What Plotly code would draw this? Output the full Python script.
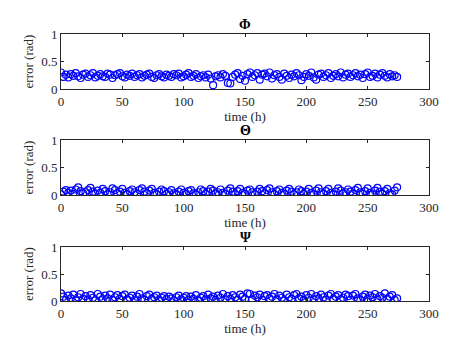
import plotly.graph_objects as go

time_h = [0, 2, 4, 6, 8, 10, 12, 14, 16, 18, 20, 22,
          24, 26, 28, 30, 32, 34, 36, 38, 40, 42, 44, 46,
          48, 50, 52, 54, 56, 58, 60, 62, 64, 66, 68, 70,
          72, 74, 76, 78, 80, 82, 84, 86, 88, 90, 92, 94,
          96, 98, 100, 102, 104, 106, 108, 110, 112, 114, 116, 118,
          120, 122, 124, 126, 128, 130, 132, 134, 136, 138, 140, 142,
          144, 146, 148, 150, 152, 154, 156, 158, 160, 162, 164, 166,
          168, 170, 172, 174, 176, 178, 180, 182, 184, 186, 188, 190,
          192, 194, 196, 198, 200, 202, 204, 206, 208, 210, 212, 214,
          216, 218, 220, 222, 224, 226, 228, 230, 232, 234, 236, 238,
          240, 242, 244, 246, 248, 250, 252, 254, 256, 258, 260, 262,
          264, 266, 268, 270, 272, 274]

phi_err = [0.30, 0.22, 0.26, 0.21, 0.27, 0.24, 0.29, 0.23, 0.20, 0.26, 0.28, 0.22,
           0.25, 0.29, 0.21, 0.24, 0.27, 0.23, 0.22, 0.28, 0.26, 0.20, 0.25, 0.27,
           0.29, 0.23, 0.21, 0.26, 0.24, 0.28, 0.22, 0.25, 0.27, 0.21, 0.24, 0.26,
           0.28, 0.22, 0.20, 0.25, 0.27, 0.23, 0.21, 0.26, 0.24, 0.22, 0.27, 0.25,
           0.28, 0.21, 0.23, 0.26, 0.29, 0.22, 0.24, 0.27, 0.20, 0.23, 0.25, 0.21,
           0.26, 0.19, 0.07, 0.23, 0.25, 0.21, 0.27, 0.24, 0.11, 0.10, 0.22, 0.26,
           0.29, 0.18, 0.24, 0.15, 0.27, 0.30, 0.22, 0.25, 0.29, 0.17, 0.26, 0.28,
           0.23, 0.30, 0.19, 0.25, 0.27, 0.22, 0.17, 0.28, 0.24, 0.20, 0.26, 0.23,
           0.29, 0.25, 0.16, 0.22, 0.27, 0.24, 0.30, 0.21, 0.17, 0.26, 0.28, 0.22,
           0.25, 0.29, 0.20, 0.24, 0.27, 0.23, 0.30, 0.21, 0.26, 0.28, 0.22, 0.25,
           0.29, 0.23, 0.26, 0.20, 0.27, 0.30, 0.22, 0.24, 0.28, 0.21, 0.26, 0.29,
           0.24, 0.21, 0.27, 0.23, 0.25, 0.22]

theta_err = [0.01, 0.06, 0.09, 0.04, 0.08, 0.02, 0.10, 0.14, 0.07, 0.03, 0.05, 0.09,
             0.13, 0.06, 0.02, 0.08, 0.04, 0.11, 0.07, 0.01, 0.05, 0.12, 0.09, 0.03,
             0.06, 0.11, 0.04, 0.01, 0.07, 0.10, 0.05, 0.02, 0.09, 0.12, 0.06, 0.03,
             0.08, 0.11, 0.04, 0.01, 0.06, 0.10, 0.07, 0.02, 0.05, 0.09, 0.03, 0.01,
             0.06, 0.10, 0.04, 0.02, 0.07, 0.09, 0.03, 0.01, 0.05, 0.10, 0.07, 0.02,
             0.06, 0.11, 0.08, 0.03, 0.05, 0.10, 0.04, 0.02, 0.08, 0.12, 0.06, 0.01,
             0.07, 0.11, 0.04, 0.02, 0.08, 0.10, 0.05, 0.01, 0.06, 0.11, 0.07, 0.03,
             0.09, 0.12, 0.05, 0.01, 0.07, 0.10, 0.04, 0.02, 0.08, 0.11, 0.06, 0.01,
             0.05, 0.10, 0.07, 0.02, 0.06, 0.11, 0.04, 0.01, 0.08, 0.12, 0.05, 0.02,
             0.07, 0.11, 0.04, 0.01, 0.06, 0.12, 0.08, 0.03, 0.05, 0.10, 0.06, 0.02,
             0.09, 0.13, 0.05, 0.02, 0.07, 0.12, 0.04, 0.01, 0.08, 0.13, 0.06, 0.02,
             0.07, 0.11, 0.03, 0.01, 0.08, 0.14]

psi_err = [0.14, 0.08, 0.02, 0.10, 0.05, 0.12, 0.01, 0.07, 0.13, 0.04, 0.09, 0.03,
           0.11, 0.06, 0.01, 0.13, 0.08, 0.03, 0.10, 0.05, 0.12, 0.02, 0.07, 0.11,
           0.04, 0.09, 0.12, 0.03, 0.06, 0.10, 0.01, 0.08, 0.13, 0.05, 0.02, 0.09,
           0.12, 0.04, 0.07, 0.10, 0.02, 0.06, 0.09, 0.03, 0.08, 0.05, 0.01, 0.07,
           0.10, 0.03, 0.06, 0.09, 0.02, 0.08, 0.04, 0.11, 0.01, 0.06, 0.09, 0.03,
           0.12, 0.05, 0.08, 0.02, 0.10, 0.06, 0.13, 0.03, 0.09, 0.04, 0.11, 0.07,
           0.02, 0.12, 0.08, 0.04, 0.14, 0.13, 0.03, 0.10, 0.07, 0.12, 0.02, 0.09,
           0.11, 0.05, 0.08, 0.13, 0.03, 0.10, 0.06, 0.01, 0.12, 0.07, 0.04, 0.11,
           0.13, 0.05, 0.08, 0.02, 0.11, 0.06, 0.13, 0.03, 0.09, 0.05, 0.12, 0.07,
           0.02, 0.10, 0.13, 0.04, 0.08, 0.11, 0.03, 0.06, 0.12, 0.09, 0.02, 0.10,
           0.13, 0.05, 0.01, 0.08, 0.12, 0.04, 0.10, 0.07, 0.13, 0.03, 0.09, 0.06,
           0.14, 0.04, 0.08, 0.11, 0.02, 0.05]

panel_titles = ["Φ", "Θ", "Ψ"]
series = [phi_err, theta_err, psi_err]
x_ticks = [0, 50, 100, 150, 200, 250, 300]
y_ticks = [0, 0.5, 1]
y_tick_text = ["0", "0.5", "1"]

FONT = "Liberation Serif"
AXCOL = "#262626"
domains = [[0.794, 1.0], [0.397, 0.603], [0.0, 0.202]]

fig = go.Figure()
layout = dict(
    width=474, height=355,
    margin=dict(l=61, r=45, t=34, b=54),
    paper_bgcolor="white", plot_bgcolor="white",
    showlegend=False,
    font=dict(family=FONT, size=12, color=AXCOL),
    annotations=[],
)

for i, (vals, title) in enumerate(zip(series, panel_titles)):
    n = i + 1
    xa = "x" if n == 1 else f"x{n}"
    ya = "y" if n == 1 else f"y{n}"
    fig.add_trace(go.Scatter(
        x=time_h, y=vals, mode="markers", xaxis=xa, yaxis=ya,
        marker=dict(symbol="circle-open", size=7, color="#0000FF",
                    line=dict(width=1.2, color="#0000FF")),
    ))
    xkey = "xaxis" if n == 1 else f"xaxis{n}"
    ykey = "yaxis" if n == 1 else f"yaxis{n}"
    layout[xkey] = dict(
        domain=[0, 1], anchor=ya, range=[0, 300], tickvals=x_ticks,
        automargin=False,
        showgrid=False, zeroline=False, showline=True, linecolor=AXCOL,
        linewidth=1, mirror="allticks", ticks="inside", ticklen=3,
        tickcolor=AXCOL, tickfont=dict(family=FONT, size=13, color=AXCOL),
        title=dict(text="time (h)", font=dict(family=FONT, size=13, color=AXCOL),
                   standoff=0),
    )
    layout[ykey] = dict(
        domain=domains[i], anchor=xa, range=[0, 1], tickvals=y_ticks,
        ticktext=y_tick_text, automargin=False,
        showgrid=False, zeroline=False, showline=True, linecolor=AXCOL,
        linewidth=1, mirror="allticks", ticks="inside", ticklen=3,
        tickcolor=AXCOL, tickfont=dict(family=FONT, size=13, color=AXCOL),
        title=dict(text="error (rad)", font=dict(family=FONT, size=13, color=AXCOL),
                   standoff=4),
    )
    layout["annotations"].append(dict(
        text=f"<b>{title}</b>", xref="x domain" if n == 1 else f"x{n} domain",
        yref="y domain" if n == 1 else f"y{n} domain",
        x=0.5, y=1.0, xanchor="center", yanchor="bottom", yshift=0,
        showarrow=False, font=dict(family=FONT, size=14, color="black"),
    ))

fig.update_layout(**layout)
fig.write_html(
    "out.html",
    config={"displayModeBar": False},
    post_script="document.body.style.margin='0';document.body.style.overflow='hidden';",
)
